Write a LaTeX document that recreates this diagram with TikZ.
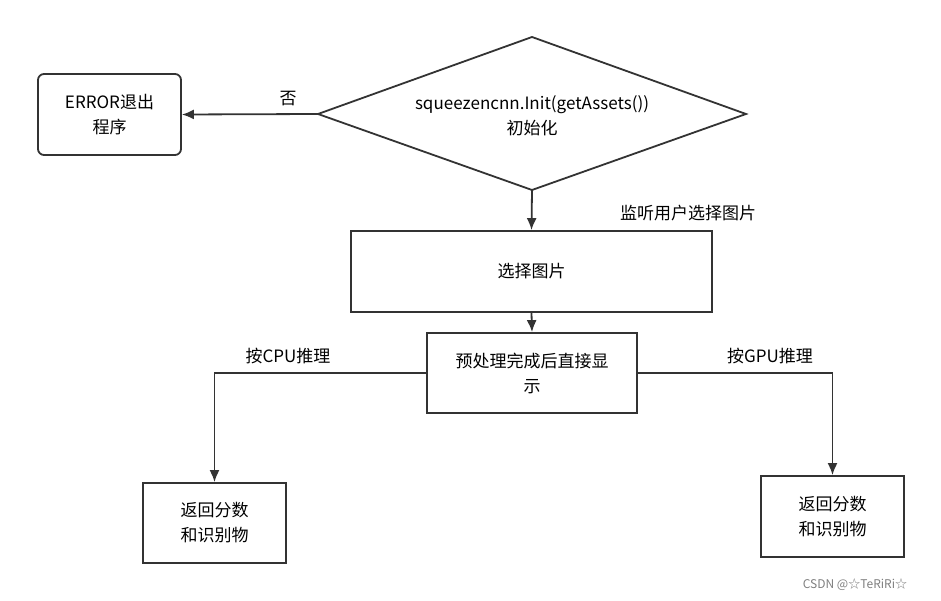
\documentclass[tikz,border=0pt]{standalone}
\usepackage{fontspec}
\setmainfont{Noto Sans CJK SC}
\usetikzlibrary{arrows.meta,shapes.geometric}
\definecolor{ln}{HTML}{333333}
\begin{document}
\begin{tikzpicture}[x=1pt,y=-1pt,
  box/.style={draw=ln,line width=1.8pt,inner sep=0pt,align=center,font=\fontsize{17}{25}\selectfont},
  arr/.style={draw=ln,line width=1.8pt,-{Latex[length=12pt,width=10pt]}},
  lbl/.style={font=\fontsize{17}{20}\selectfont,text=black}]
\useasboundingbox[fill=white] (0,0) rectangle (941,601);
\coordinate (dt) at (532,37); \coordinate (dl) at (318,114);
\coordinate (dr) at (746,114); \coordinate (db) at (532,190);
\draw[ln,line width=1.8pt,fill=white] (dt)--(dr)--(db)--(dl)--cycle;
\node[box,draw=none] (d) at (532,116) {squeezencnn.Init(getAssets())\\初始化};
\node[box,rounded corners=6pt,minimum width=143pt,minimum height=81pt] (err) at (109.5,114.5) {ERROR退出\\程序};
\node[box,minimum width=361pt,minimum height=81pt] (sel) at (531.5,271.5) {选择图片};
\node[box,minimum width=210pt,minimum height=80pt] (pre) at (532,373) {预处理完成后直接显\\示};
\node[box,minimum width=143pt,minimum height=80pt] (l) at (214.5,523) {返回分数\\和识别物};
\node[box,minimum width=143pt,minimum height=81pt] (r) at (832.5,516.5) {返回分数\\和识别物};
\draw[arr] (dl) -- (err.east);
\draw[arr] (db) -- (sel.north);
\draw[arr] (sel.south) -- (pre.north);
\draw[arr] (pre.west) -| (l.north);
\draw[arr] (pre.east) -| (r.north);
\node[lbl] (n1) at (288,99) {否};
\node[lbl] (n2) at (688,213) {监听用户选择图片};
\node[lbl] (n3) at (288,356) {按CPU推理};
\node[lbl] (n4) at (770,356) {按GPU推理};
\node[font=\fontsize{12}{14}\selectfont,text=gray] (wm) at (855,585) {CSDN @☆TeRiRi☆};
\end{tikzpicture}
\end{document}
